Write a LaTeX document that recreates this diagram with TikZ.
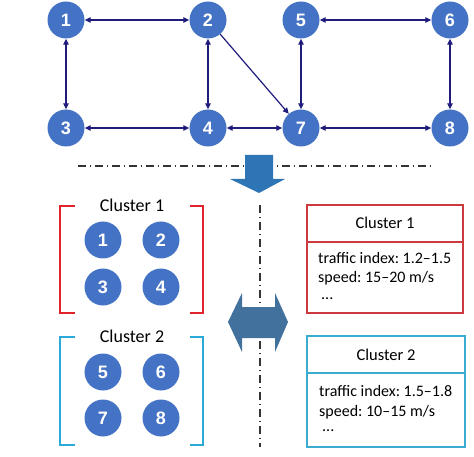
\documentclass[tikz,border=0pt]{standalone}
\usepackage{fontspec}
\setmainfont{Carlito}
\newfontfamily\digitfont{Liberation Sans}
\usetikzlibrary{arrows.meta}
\usetikzlibrary{positioning}
\frenchspacing
\definecolor{siteblue}{HTML}{4472C4}
\definecolor{linknavy}{HTML}{1F1C7C}
\definecolor{flowblue}{HTML}{2E75B6}
\definecolor{swapblue}{HTML}{41719C}
\definecolor{groupred}{HTML}{E0232C}
\definecolor{boxred}{HTML}{CC3A40}
\definecolor{groupcyan}{HTML}{2BAAD8}
\definecolor{boxcyan}{HTML}{3AACD0}
\tikzset{
    site/.style={circle, fill=siteblue, minimum size=37pt, inner sep=0pt, text=white,
        font=\digitfont\bfseries\fontsize{18}{18}\selectfont},
    link/.style={draw=linknavy, line width=1.2pt,
        {Triangle[length=6pt,width=5.5pt]}-{Triangle[length=6pt,width=5.5pt]}},
    oneway/.style={draw=linknavy, line width=1.2pt, -{Triangle[length=6pt,width=5.5pt]}},
    dashdot/.style={draw=black!80, line width=1.2pt, dash pattern=on 8pt off 4pt on 1pt off 4pt},
    bracket/.style={line width=2.4pt},
    infobox/.style={draw, line width=1.4pt, minimum width=156pt, inner sep=0pt},
    grouptitle/.style={font=\fontsize{18}{18}\selectfont, inner sep=0pt},
    boxtitle/.style={font=\fontsize{16.5}{18}\selectfont, inner sep=0pt},
    boxtext/.style={font=\fontsize{16}{18}\selectfont, anchor=west, inner sep=0pt},
}
\begin{document}
\begin{tikzpicture}[x=1pt,y=-1pt]
    \useasboundingbox (0,0) rectangle (474,457);
    % road network
    \foreach \n/\x/\y in {1/66/20, 2/208/20, 5/301/20, 6/450/20,
                          3/66/128, 4/208/128, 7/301/128, 8/450/128}
        \node[site] (n\n) at (\x,\y) {\n};
    \foreach \a/\b in {1/2, 1/3, 2/4, 3/4, 4/7, 5/6, 5/7, 6/8, 7/8}
        \draw[link] (n\a) -- (n\b);
    \draw[oneway] (n2) -- (n7);
    % separators
    \coordinate (hl) at (78,166);
    \coordinate (hr) at (432,166);
    \coordinate (vt) at (260,205);
    \coordinate (vb) at (260,447);
    \draw[dashdot] (hl) -- (hr);
    \draw[dashdot] (vt) -- (vb);
    % arrows
    \fill[flowblue] (245,155) -- (273,155) -- (273,179) -- (285,179) -- (259,193)
        -- (230,179) -- (245,179) -- cycle;
    \fill[swapblue] (228,322) -- (242,293) -- (242,307) -- (275,307) -- (275,293)
        -- (288,322) -- (275,352) -- (275,338) -- (242,338) -- (242,352) -- cycle;
    % cluster 1
    \draw[bracket, groupred] (75,206) -- (60,206) -- (60,313) -- (75,313);
    \draw[bracket, groupred] (190,206) -- (203,206) -- (203,313) -- (190,313);
    \node[grouptitle] (g1) at (132,205) {Cluster 1};
    \foreach \n/\x/\y in {1/103/240, 2/161/240, 3/103/287, 4/161/287}
        \node[site] (c\n) at (\x,\y) {\n};
    % cluster 2
    \draw[bracket, groupcyan] (75,337) -- (60,337) -- (60,445) -- (75,445);
    \draw[bracket, groupcyan] (190,337) -- (203,337) -- (203,445) -- (190,445);
    \node[grouptitle] (g2) at (132,336) {Cluster 2};
    \foreach \n/\x/\y in {5/103/372, 6/161/372, 7/103/418, 8/161/418}
        \node[site] (c\n) at (\x,\y) {\n};
    % attribute tables
    \node[infobox, draw=boxred, minimum height=108pt] (box1) at (385,259) {};
    \draw[boxred, line width=1.4pt] (box1.west |- 0,242) -- (box1.east |- 0,242);
    \node[boxtitle] (t1) at (385,223) {Cluster 1};
    \node[boxtext] (a1) at (318,258) {traffic index: 1.2–1.5};
    \node[boxtext] (b1) at (318,278) {speed: 15–20 m/s};
    \node[boxtext] (d1) at (321,299) {...};
    \node[infobox, draw=boxcyan, minimum width=158pt, minimum height=111pt] (box2) at (386,391.5) {};
    \draw[boxcyan, line width=1.4pt] (box2.west |- 0,373) -- (box2.east |- 0,373);
    \node[boxtitle] (t2) at (386,355) {Cluster 2};
    \node[boxtext] (a2) at (319,391) {traffic index: 1.5–1.8};
    \node[boxtext] (b2) at (319,412) {speed: 10–15 m/s};
    \node[boxtext] (d2) at (322,431) {...};
\end{tikzpicture}
\end{document}
